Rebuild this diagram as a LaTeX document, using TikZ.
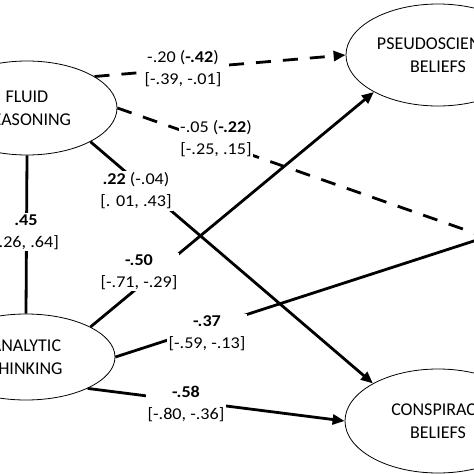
\documentclass[tikz,border=0pt]{standalone}
\usepackage{fontspec}
\setmainfont{Carlito}
\newfontfamily\lblfont{Carlito}[FakeStretch=1.1]
\usetikzlibrary{arrows.meta}
\usetikzlibrary{shapes.geometric}

\begin{document}
\begin{tikzpicture}[x=1pt, y=-1pt,
  latent/.style={draw, ellipse, line width=0.8pt, align=center, inner sep=0pt, font=\fontsize{18}{23}\selectfont},
  effect/.style={line width=2.8pt, -{Triangle[length=12pt,width=10pt]}},
  corr/.style={line width=2.8pt},
  ns/.style={dash pattern=on 15pt off 12pt},
  coef/.style={fill=white, align=center, inner sep=1.5pt, font=\lblfont\fontsize{16.5}{22}\selectfont}]
\useasboundingbox (0,0) rectangle (474,474);
\clip (0,0) rectangle (474,474);

\node[latent, anchor=center, minimum width=180pt, minimum height=94pt] (fluid) at (27,108) {FLUID\\REASONING};
\node[latent, anchor=center, minimum width=178pt, minimum height=86pt] (analytic) at (26,357) {ANALYTIC\\THINKING};
\node[latent, anchor=center, minimum width=184pt, minimum height=102pt] (pseudo) at (438,55) {PSEUDOSCIENCE\\BELIEFS};
\node[latent, anchor=center, minimum width=186pt, minimum height=104pt] (consp) at (438,421) {CONSPIRACY\\BELIEFS};
\coordinate (offA) at (480,235);
\coordinate (offB) at (480,239);

\draw[effect, ns] (fluid.25) -- (pseudo.west);
\draw[corr, ns] (fluid.east) -- (offA);
\draw[effect] (fluid.-28) -- (consp.150);
\draw[corr] (fluid.south) -- (analytic.north);
\draw[effect] (analytic.25) -- (pseudo.210);
\draw[corr] (analytic.east) -- (offB);
\draw[effect] (analytic.-27) -- (consp.west);

\node[coef, anchor=center] (c1) at (183,69) {-.20 (\textbf{-.42})\\{}[-.39, -.01]};
\node[coef, anchor=center] (c2) at (216,139) {-.05 (\textbf{-.22})\\{}[-.25, .15]};
\node[coef, anchor=center] (c3) at (136,191) {\textbf{.22} (-.04)\\{}[. 01, .43]};
\node[coef, anchor=center] (c4) at (26,232) {\textbf{.45}\\{}[.26, .64]};
\node[coef, anchor=center] (c5) at (139,272) {\textbf{-.50}\\{}[-.71, -.29]};
\node[coef, anchor=center] (c6) at (207,333) {\textbf{-.37}\\{}[-.59, -.13]};
\node[coef, anchor=center] (c7) at (186,404) {\textbf{-.58}\\{}[-.80, -.36]};
\end{tikzpicture}
\end{document}
